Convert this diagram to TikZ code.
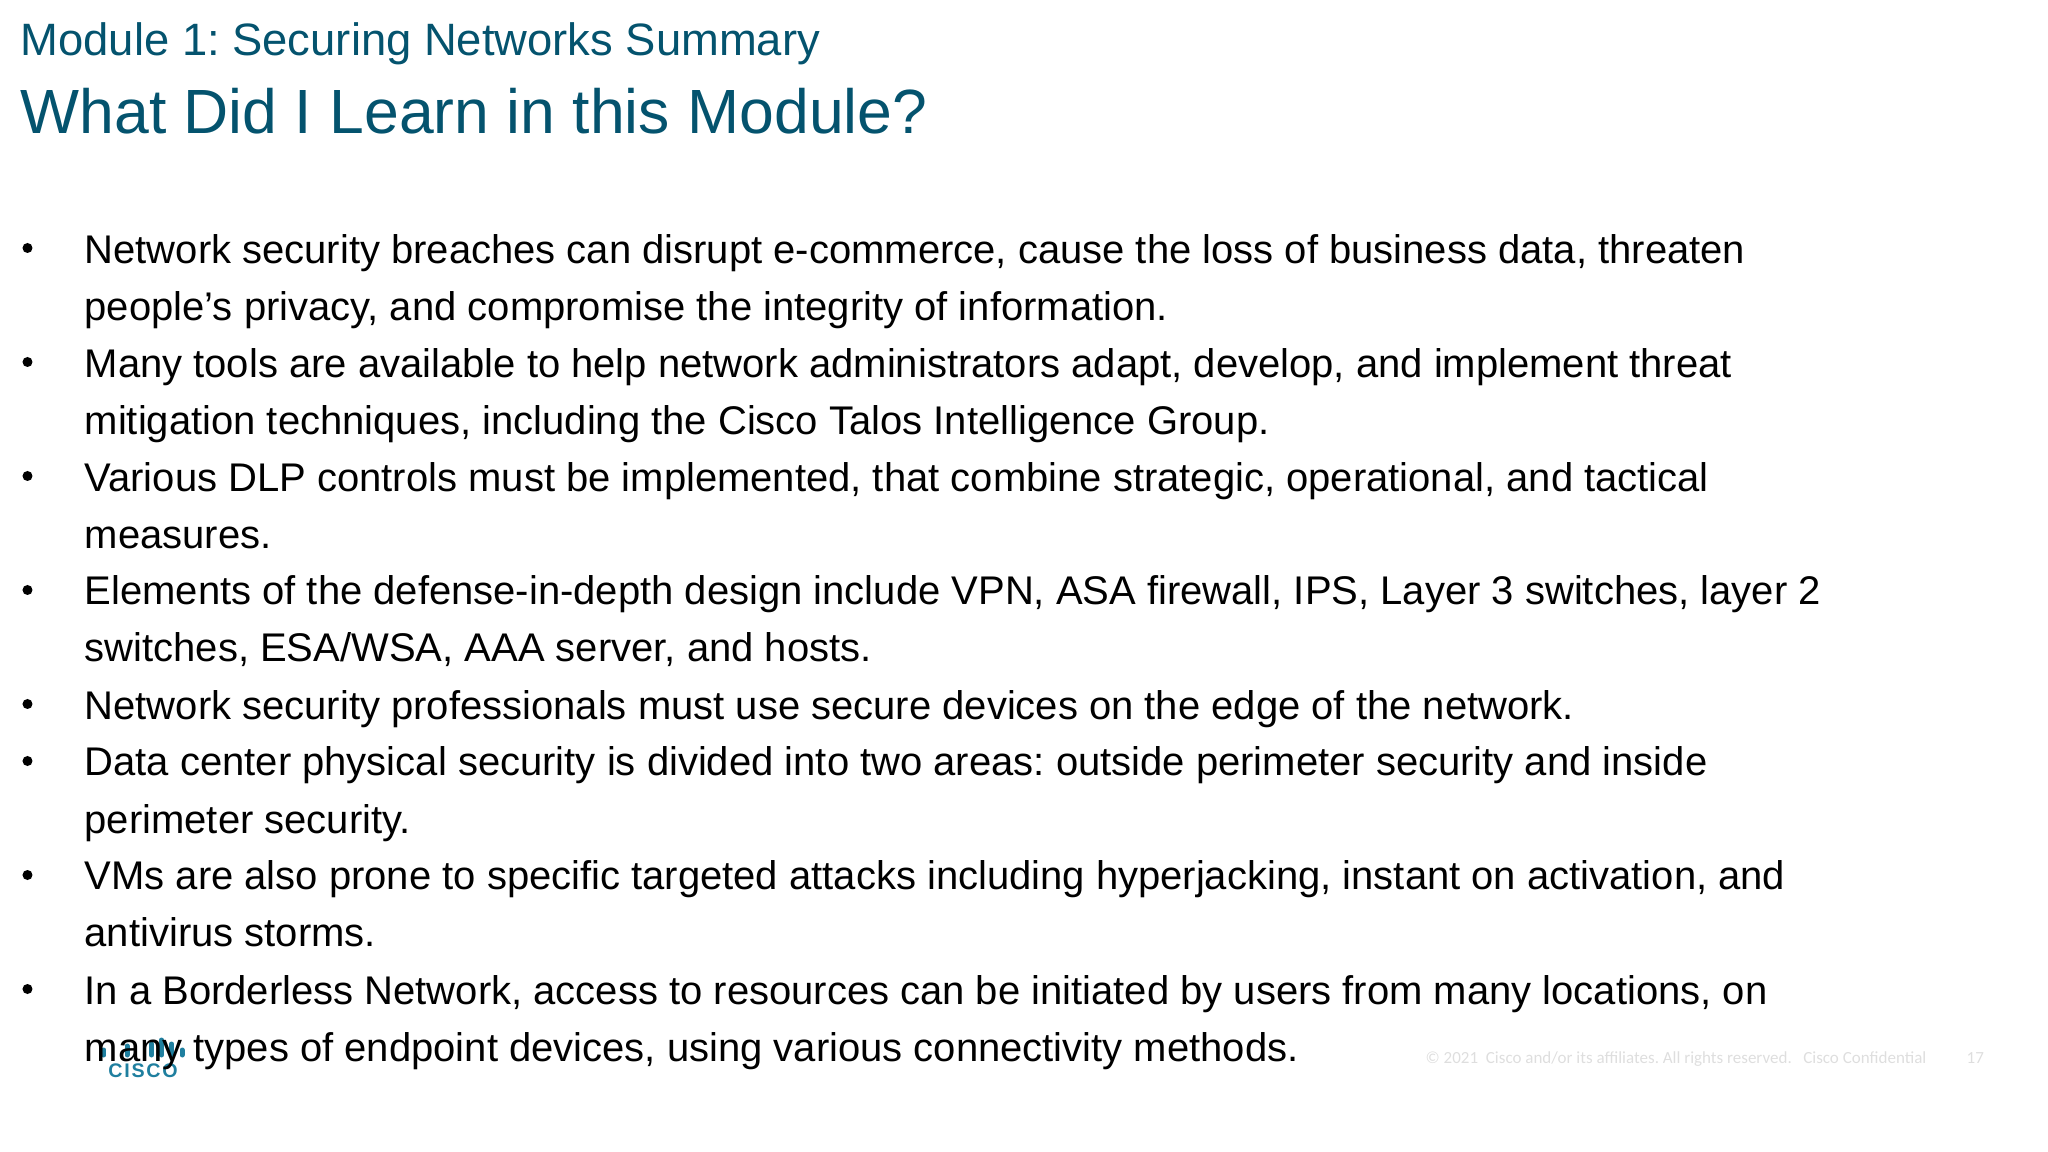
\documentclass[tikz,border=0pt]{standalone}
\usepackage{fontspec}
\setmainfont{Liberation Sans}
\newfontfamily\footfont{Carlito}
\frenchspacing
\definecolor{titleteal}{HTML}{04536E}
\definecolor{logoteal}{HTML}{1F7F9F}
\definecolor{footgray}{HTML}{DEDEDE}
\tikzset{
  bodyline/.style={anchor=base west,inner sep=0pt,font=\fontsize{11.38}{13}\selectfont,text=black},
  bulletdot/.style={circle,fill=black,inner sep=0pt,minimum size=0.1cm},
  footnote/.style={anchor=base west,inner sep=0pt,font=\footfont\fontsize{4.84}{6}\selectfont,text=footgray},
  logobar/.style={draw=logoteal,line width=0.05cm,line cap=round}
}
\begin{document}
\begin{tikzpicture}
\useasboundingbox (0,0) rectangle (20.48,-11.52);
\node[anchor=base west,inner sep=0pt,text=titleteal,font=\fontsize{12.91}{15}\selectfont] (sub) at (0.2,-0.555) {Module 1: Securing Networks Summary};
\node[anchor=base west,inner sep=0pt,text=titleteal,font=\fontsize{17.78}{20}\selectfont] (head) at (0.2,-1.34) {What Did I Learn in this Module?};
% bullets
\foreach \y in {2.48,3.62,4.76,5.90,7.04,7.61,8.75,9.89}
{   \node[bulletdot] at (0.275,-\y) {};
}
\node[bodyline] (l1) at (0.84,-2.64) {Network security breaches can disrupt e-commerce, cause the loss of business data, threaten};
\node[bodyline] (l2) at (0.84,-3.21) {people’s privacy, and compromise the integrity of information.};
\node[bodyline] (l3) at (0.84,-3.78) {Many tools are available to help network administrators adapt, develop, and implement threat};
\node[bodyline] (l4) at (0.84,-4.35) {mitigation techniques, including the Cisco Talos Intelligence Group.};
\node[bodyline] (l5) at (0.84,-4.92) {Various DLP controls must be implemented, that combine strategic, operational, and tactical};
\node[bodyline] (l6) at (0.84,-5.49) {measures.};
\node[bodyline] (l7) at (0.84,-6.05) {Elements of the defense-in-depth design include VPN, ASA firewall, IPS, Layer 3 switches, layer 2};
\node[bodyline] (l8) at (0.84,-6.62) {switches, ESA/WSA, AAA server, and hosts.};
\node[bodyline] (l9) at (0.84,-7.19) {Network security professionals must use secure devices on the edge of the network.};
\node[bodyline] (l10) at (0.84,-7.76) {Data center physical security is divided into two areas: outside perimeter security and inside};
\node[bodyline] (l11) at (0.84,-8.33) {perimeter security.};
\node[bodyline] (l12) at (0.84,-8.90) {VMs are also prone to specific targeted attacks including hyperjacking, instant on activation, and};
\node[bodyline] (l13) at (0.84,-9.47) {antivirus storms.};
\node[bodyline] (l14) at (0.84,-10.04) {In a Borderless Network, access to resources can be initiated by users from many locations, on};
% logo
\foreach \x/\t/\b in {1.04/10.50/10.55,1.27/10.46/10.55,1.515/10.44/10.55,1.615/10.40/10.55,1.715/10.44/10.55,1.82/10.50/10.55}
{   \draw[logobar] (\x,-\t) -- (\x,-\b);
}
\node[anchor=base,inner sep=0pt,text=logoteal,font=\bfseries\fontsize{5.6}{7}\selectfont] (logo) at (1.43,-10.77) {C\kern0.5pt I\kern0.5pt S\kern0.5pt C\kern0.5pt O};
\node[bodyline] (l15) at (0.84,-10.61) {many types of endpoint devices, using various connectivity methods.};
\node[footnote] (copy) at (14.25,-10.63) {© 2021\ \ Cisco and/or its affiliates. All rights reserved.\ \ \ Cisco Confidential};
\node[footnote] (page) at (19.66,-10.63) {17};
\end{tikzpicture}
\end{document}
